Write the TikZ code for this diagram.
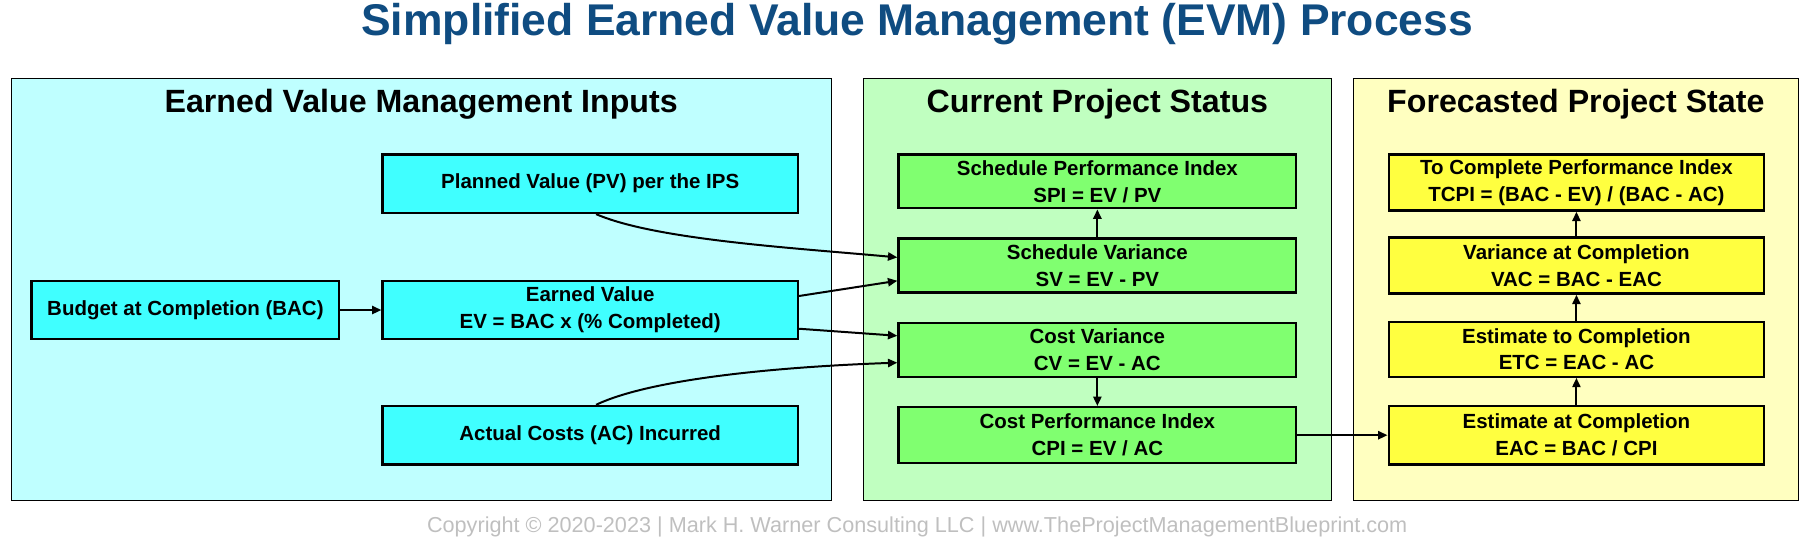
\documentclass[tikz,border=0pt]{standalone}
\usepackage{fontspec}
\setmainfont{Liberation Sans}
\usetikzlibrary{arrows.meta}
\definecolor{titleblue}{HTML}{0F4C81}
\definecolor{pcyan}{HTML}{BFFFFF}
\definecolor{pgreen}{HTML}{C0FFC0}
\definecolor{pyellow}{HTML}{FFFFC0}
\definecolor{bcyan}{HTML}{40FFFF}
\definecolor{bgreen}{HTML}{80FF70}
\definecolor{byellow}{HTML}{FFFF40}
\begin{document}
\begin{tikzpicture}[x=1pt,y=-1pt,
  panel/.style={draw=black,line width=0.8pt},
  ptitle/.style={font=\fontsize{27.5}{32}\selectfont\bfseries},
  box/.style={draw=black,line width=2pt,align=center,font=\fontsize{17.5}{23}\selectfont\bfseries,inner sep=0pt},
  arr/.style={-{Triangle[length=8pt,width=7pt]},line width=1.7pt}]
\useasboundingbox (0,0) rectangle (1548,459);
\node[font=\fontsize{38}{44}\selectfont\bfseries,text=titleblue] (title) at (784,21) {Simplified Earned Value Management (EVM) Process};
\draw[panel,fill=pcyan] (10,67) rectangle (711,428);
\draw[panel,fill=pgreen] (738,67) rectangle (1138,428);
\draw[panel,fill=pyellow] (1157,67) rectangle (1537,428);
\node[ptitle] (t1) at (360,89) {Earned Value Management Inputs};
\node[ptitle] (t2) at (938,89) {Current Project Status};
\node[ptitle] (t3) at (1347,89) {Forecasted Project State};
% cyan
\node[box,fill=bcyan,minimum width=355pt,minimum height=50pt] (pv) at (504.5,157) {Planned Value (PV) per the IPS};
\node[box,fill=bcyan,minimum width=263pt,minimum height=50pt] (bac) at (158.5,265) {Budget at Completion (BAC)};
\node[box,fill=bcyan,minimum width=355pt,minimum height=50pt] (ev) at (504.5,265) {Earned Value\\EV = BAC x (\% Completed)};
\node[box,fill=bcyan,minimum width=355pt,minimum height=50pt] (ac) at (504.5,372) {Actual Costs (AC) Incurred};
% green
\node[box,fill=bgreen,minimum width=340pt,minimum height=46pt] (spi) at (938,155) {Schedule Performance Index\\SPI = EV / PV};
\node[box,fill=bgreen,minimum width=340pt,minimum height=46pt] (sv) at (938,227) {Schedule Variance\\SV = EV - PV};
\node[box,fill=bgreen,minimum width=340pt,minimum height=46pt] (cv) at (938,299) {Cost Variance\\CV = EV - AC};
\node[box,fill=bgreen,minimum width=340pt,minimum height=48pt] (cpi) at (938,372) {Cost Performance Index\\CPI = EV / AC};
% yellow
\node[box,fill=byellow,minimum width=321pt,minimum height=48pt] (tcpi) at (1347.5,156) {To Complete Performance Index\\TCPI = (BAC - EV) / (BAC - AC)};
\node[box,fill=byellow,minimum width=321pt,minimum height=48pt] (vac) at (1347.5,227) {Variance at Completion\\VAC = BAC - EAC};
\node[box,fill=byellow,minimum width=321pt,minimum height=47pt] (etc) at (1347.5,298.5) {Estimate to Completion\\ETC = EAC - AC};
\node[box,fill=byellow,minimum width=321pt,minimum height=50pt] (eac) at (1347.5,372) {Estimate at Completion\\EAC = BAC / CPI};
% arrows
\draw[arr] (bac) -- (ev);
\draw[arr] (sv) -- (spi);
\draw[arr] (cv) -- (cpi);
\draw[arr] (eac) -- (etc);
\draw[arr] (etc) -- (vac);
\draw[arr] (vac) -- (tcpi);
\draw[arr] (cpi.east) -- (eac.west);
\draw[arr] ([xshift=5pt]pv.south) .. controls (560,205) and (680,212) .. ([yshift=7pt]sv.west);
\draw[arr] ([yshift=12pt]ev.east) -- ([yshift=-13pt]sv.west);
\draw[arr] ([yshift=-16pt]ev.east) -- ([yshift=12pt]cv.west);
\draw[arr] ([xshift=5pt]ac.north) .. controls (560,322) and (680,313) .. ([yshift=-11pt]cv.west);
\node[text=black!25,font=\fontsize{18.5}{22}\selectfont] (copy) at (784,450) {Copyright © 2020-2023 | Mark H. Warner Consulting LLC | www.TheProjectManagementBlueprint.com};
\end{tikzpicture}
\end{document}
